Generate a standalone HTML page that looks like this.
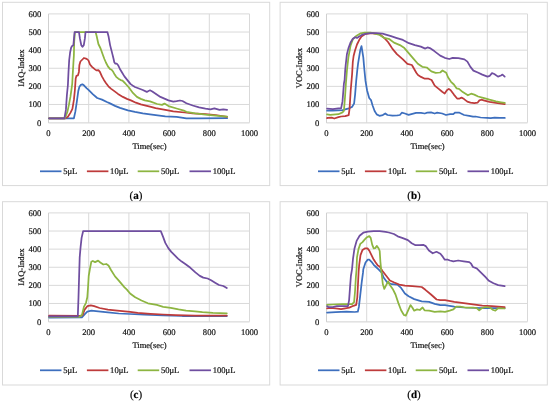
<!DOCTYPE html>
<html><head><meta charset="utf-8"><title>Figure</title><style>html,body{margin:0;padding:0;background:#fff;}svg{display:block;filter:blur(0.25px);}text{font-family:"Liberation Serif",serif;text-rendering:geometricPrecision;stroke:#141414;stroke-width:0.2px;}</style></head><body>
<svg width="550" height="402" viewBox="0 0 550 402">
<rect x="0" y="0" width="550" height="402" fill="#fff"/>
<g transform="translate(0 0)"><rect x="2.5" y="2.3" width="267.2" height="183.3" fill="#fff" stroke="#d9d9d9" stroke-width="1"/><line x1="48.5" y1="104.48" x2="249.5" y2="104.48" stroke="#d9d9d9" stroke-width="1"/><line x1="48.5" y1="86.37" x2="249.5" y2="86.37" stroke="#d9d9d9" stroke-width="1"/><line x1="48.5" y1="68.25" x2="249.5" y2="68.25" stroke="#d9d9d9" stroke-width="1"/><line x1="48.5" y1="50.13" x2="249.5" y2="50.13" stroke="#d9d9d9" stroke-width="1"/><line x1="48.5" y1="32.02" x2="249.5" y2="32.02" stroke="#d9d9d9" stroke-width="1"/><line x1="48.5" y1="13.9" x2="249.5" y2="13.9" stroke="#d9d9d9" stroke-width="1"/><line x1="88.7" y1="13.9" x2="88.7" y2="122.6" stroke="#d9d9d9" stroke-width="1"/><line x1="128.9" y1="13.9" x2="128.9" y2="122.6" stroke="#d9d9d9" stroke-width="1"/><line x1="169.1" y1="13.9" x2="169.1" y2="122.6" stroke="#d9d9d9" stroke-width="1"/><line x1="209.3" y1="13.9" x2="209.3" y2="122.6" stroke="#d9d9d9" stroke-width="1"/><line x1="249.5" y1="13.9" x2="249.5" y2="122.6" stroke="#d9d9d9" stroke-width="1"/><line x1="48.5" y1="13.9" x2="48.5" y2="122.9" stroke="#d0d0d0" stroke-width="1"/><line x1="48.5" y1="122.9" x2="249.5" y2="122.9" stroke="#d0d0d0" stroke-width="1"/><text x="41.3" y="125.5" font-size="8.6" text-anchor="end" fill="#141414">0</text><text x="41.3" y="107.38" font-size="8.6" text-anchor="end" fill="#141414">100</text><text x="41.3" y="89.27" font-size="8.6" text-anchor="end" fill="#141414">200</text><text x="41.3" y="71.15" font-size="8.6" text-anchor="end" fill="#141414">300</text><text x="41.3" y="53.03" font-size="8.6" text-anchor="end" fill="#141414">400</text><text x="41.3" y="34.92" font-size="8.6" text-anchor="end" fill="#141414">500</text><text x="41.3" y="16.8" font-size="8.6" text-anchor="end" fill="#141414">600</text><text x="48.5" y="135.9" font-size="8.6" text-anchor="middle" fill="#141414">0</text><text x="88.7" y="135.9" font-size="8.6" text-anchor="middle" fill="#141414">200</text><text x="128.9" y="135.9" font-size="8.6" text-anchor="middle" fill="#141414">400</text><text x="169.1" y="135.9" font-size="8.6" text-anchor="middle" fill="#141414">600</text><text x="209.3" y="135.9" font-size="8.6" text-anchor="middle" fill="#141414">800</text><text x="249.5" y="135.9" font-size="8.6" text-anchor="middle" fill="#141414">1000</text><text x="0" y="0" font-size="8.5" text-anchor="middle" fill="#141414" transform="translate(23.6 68.1) rotate(-90)">IAQ-Index</text><text x="149.5" y="149" font-size="8.5" text-anchor="middle" fill="#141414">Time(sec)</text><line x1="40" y1="171.3" x2="61.5" y2="171.3" stroke="#3d6fbe" stroke-width="1.75"/><text x="63.2" y="174.4" font-size="8.6" fill="#141414">5μL</text><line x1="86.9" y1="171.3" x2="108.4" y2="171.3" stroke="#be3b3b" stroke-width="1.75"/><text x="110.1" y="174.4" font-size="8.6" fill="#141414">10μL</text><line x1="137.7" y1="171.3" x2="159.2" y2="171.3" stroke="#8db541" stroke-width="1.75"/><text x="160.9" y="174.4" font-size="8.6" fill="#141414">50μL</text><line x1="189.5" y1="171.3" x2="211" y2="171.3" stroke="#6f4ea0" stroke-width="1.75"/><text x="212.7" y="174.4" font-size="8.6" fill="#141414">100μL</text><text x="136" y="199.1" font-size="11" text-anchor="middle" fill="#000">(<tspan font-weight="bold">a</tspan>)</text></g>
<polyline points="49.1,118.3 73.9,118.3 75.3,111.9 76.8,101.9 78.3,91 79.4,86.8 80.9,84.8 82.4,84.3 83.9,85.3 86.8,88.3 88,89.3 93,94.3 97.2,98 102,99.6 106.9,102 110,103.4 115,105.9 120,107.9 127.9,110.3 134.9,111.8 142.8,113.3 150,114.3 165.3,116.3 176.6,116.9 186.4,118.4 199.1,118.4 227.1,118.2" fill="none" stroke="#3d6fbe" stroke-width="1.75" stroke-linejoin="round" stroke-linecap="round"/>
<polyline points="49.1,118.3 65.4,118.3 67.9,116.8 70.4,112.9 72.4,108.9 73.9,99.9 74.9,90 75.7,78.4 76.4,75.9 77.9,75.4 78.9,71.9 79.4,64.9 80.4,61.5 81.9,60 83.9,58 85.9,58.6 87.5,59.5 88.5,60.5 90,64.5 92,66.9 95,69.4 96.4,70.4 98.4,70.1 99.9,71.9 101.9,76.4 103.9,79.9 105.9,82.9 108.4,86.3 110.9,88.6 114,90.9 118,93.9 122.9,96.9 126.9,98.9 130.9,100.4 135.9,102.7 140.8,104.4 144.8,105.4 150,106.7 155.6,108.2 165.3,109.8 173.3,111.4 184.7,112.5 192.7,113.3 205.5,114.1 215.6,115 227.1,116.9" fill="none" stroke="#be3b3b" stroke-width="1.75" stroke-linejoin="round" stroke-linecap="round"/>
<polyline points="49.1,118.3 64.9,118.3 67.4,111.9 68.9,104.9 70.4,96.9 71.4,90 72.2,84 72.7,74.9 73.4,63 73.9,55 74.2,41.8 74.9,32.1 95.6,32.1 96.7,36.2 98.4,44 100.6,48.5 102.9,55 104.4,59 105.9,62.5 107.9,66.4 109.9,68.9 111.6,69.8 113.2,71.8 114.7,74.6 116.2,76.8 118.4,78.7 120.7,80.1 122.5,80.7 124.9,83 128.9,87.5 132.9,92.9 136.9,96.9 140.8,98.9 144.8,100.4 150,101.4 157.2,104 162,104.9 164.5,103.6 168.5,106.1 176.6,108.5 184.7,110.9 186.4,111.8 195.3,113.3 205.5,114.6 218.2,115.9 227.1,116.7" fill="none" stroke="#8db541" stroke-width="1.75" stroke-linejoin="round" stroke-linecap="round"/>
<polyline points="49.1,118.3 64.4,118.3 65.9,109.9 66.9,95 67.9,85 68.5,72 69.2,60 70.1,52.5 71.2,47.4 72.3,45.7 73.4,45.2 74,38.4 74.6,32.1 79,32.1 79.9,38.4 81.3,45.2 82.4,46.8 83.8,45.2 84.9,38.4 85.5,32.1 107.4,32.1 108.5,36.2 110.1,45.1 112.4,54.1 113.6,59 114.3,62.2 115.4,63.7 116.9,63.7 118.1,65.2 119.9,69 122.2,72.7 124.4,76.4 127.4,80.1 130.4,83.9 133.4,86.1 134.9,87 138.9,88.5 142.8,90 146.8,91.9 148.5,91 150,90.3 152.3,91.5 160.4,96.9 168.5,100.4 173.3,101.7 176.6,101.2 180,100.5 182.5,101 186.4,103.2 192.7,105.5 199.1,107.4 205.5,108.6 210.5,109.3 214.4,108.3 219.5,109.9 223.3,109.3 227.1,109.9" fill="none" stroke="#6f4ea0" stroke-width="1.75" stroke-linejoin="round" stroke-linecap="round"/>
<g transform="translate(278 0)"><rect x="2.1" y="2.3" width="267.2" height="183.3" fill="#fff" stroke="#d9d9d9" stroke-width="1"/><line x1="48.5" y1="104.48" x2="249.5" y2="104.48" stroke="#d9d9d9" stroke-width="1"/><line x1="48.5" y1="86.37" x2="249.5" y2="86.37" stroke="#d9d9d9" stroke-width="1"/><line x1="48.5" y1="68.25" x2="249.5" y2="68.25" stroke="#d9d9d9" stroke-width="1"/><line x1="48.5" y1="50.13" x2="249.5" y2="50.13" stroke="#d9d9d9" stroke-width="1"/><line x1="48.5" y1="32.02" x2="249.5" y2="32.02" stroke="#d9d9d9" stroke-width="1"/><line x1="48.5" y1="13.9" x2="249.5" y2="13.9" stroke="#d9d9d9" stroke-width="1"/><line x1="88.7" y1="13.9" x2="88.7" y2="122.6" stroke="#d9d9d9" stroke-width="1"/><line x1="128.9" y1="13.9" x2="128.9" y2="122.6" stroke="#d9d9d9" stroke-width="1"/><line x1="169.1" y1="13.9" x2="169.1" y2="122.6" stroke="#d9d9d9" stroke-width="1"/><line x1="209.3" y1="13.9" x2="209.3" y2="122.6" stroke="#d9d9d9" stroke-width="1"/><line x1="249.5" y1="13.9" x2="249.5" y2="122.6" stroke="#d9d9d9" stroke-width="1"/><line x1="48.5" y1="13.9" x2="48.5" y2="122.9" stroke="#d0d0d0" stroke-width="1"/><line x1="48.5" y1="122.9" x2="249.5" y2="122.9" stroke="#d0d0d0" stroke-width="1"/><text x="41.3" y="125.5" font-size="8.6" text-anchor="end" fill="#141414">0</text><text x="41.3" y="107.38" font-size="8.6" text-anchor="end" fill="#141414">100</text><text x="41.3" y="89.27" font-size="8.6" text-anchor="end" fill="#141414">200</text><text x="41.3" y="71.15" font-size="8.6" text-anchor="end" fill="#141414">300</text><text x="41.3" y="53.03" font-size="8.6" text-anchor="end" fill="#141414">400</text><text x="41.3" y="34.92" font-size="8.6" text-anchor="end" fill="#141414">500</text><text x="41.3" y="16.8" font-size="8.6" text-anchor="end" fill="#141414">600</text><text x="48.5" y="135.9" font-size="8.6" text-anchor="middle" fill="#141414">0</text><text x="88.7" y="135.9" font-size="8.6" text-anchor="middle" fill="#141414">200</text><text x="128.9" y="135.9" font-size="8.6" text-anchor="middle" fill="#141414">400</text><text x="169.1" y="135.9" font-size="8.6" text-anchor="middle" fill="#141414">600</text><text x="209.3" y="135.9" font-size="8.6" text-anchor="middle" fill="#141414">800</text><text x="249.5" y="135.9" font-size="8.6" text-anchor="middle" fill="#141414">1000</text><text x="0" y="0" font-size="8.5" text-anchor="middle" fill="#141414" transform="translate(23.6 68.1) rotate(-90)">VOC-Index</text><text x="149.5" y="149" font-size="8.5" text-anchor="middle" fill="#141414">Time(sec)</text><line x1="40" y1="171.3" x2="61.5" y2="171.3" stroke="#3d6fbe" stroke-width="1.75"/><text x="63.2" y="174.4" font-size="8.6" fill="#141414">5μL</text><line x1="86.9" y1="171.3" x2="108.4" y2="171.3" stroke="#be3b3b" stroke-width="1.75"/><text x="110.1" y="174.4" font-size="8.6" fill="#141414">10μL</text><line x1="137.7" y1="171.3" x2="159.2" y2="171.3" stroke="#8db541" stroke-width="1.75"/><text x="160.9" y="174.4" font-size="8.6" fill="#141414">50μL</text><line x1="189.5" y1="171.3" x2="211" y2="171.3" stroke="#6f4ea0" stroke-width="1.75"/><text x="212.7" y="174.4" font-size="8.6" fill="#141414">100μL</text><text x="136" y="199.1" font-size="11" text-anchor="middle" fill="#000">(<tspan font-weight="bold">b</tspan>)</text></g>
<polyline points="327.1,110.7 332.9,110.7 342.5,110.1 348,108.7 352.1,106.9 354.1,103.5 355.1,94.6 356.2,80.9 357.3,70 358.1,63.3 360.3,49.9 361.5,46.1 363.3,57.3 364.4,70 365.5,80.9 367.1,90.5 369.2,98 371,100.1 372.6,105.5 374.6,111 376.7,114.4 379.4,115.8 382.8,115.1 385.3,113.5 387.5,115 392.5,115.6 397.4,115.4 399.9,115 401.8,112.7 404.9,113.5 408.6,114.8 412.3,113.8 416.1,112.9 421,112.9 424.8,113.5 427.3,112.7 431,112.3 434.7,113.5 437.2,112.7 442.2,113.5 446,115 450.1,114.1 453.3,114.1 455.2,112.5 459,112.5 461.5,113.7 464.1,115 469.2,115.9 473,116.7 475.5,116.5 480.6,117.5 487,117.9 490.8,118.2 494.6,117.7 499.7,117.9 504.8,117.9" fill="none" stroke="#3d6fbe" stroke-width="1.75" stroke-linejoin="round" stroke-linecap="round"/>
<polyline points="327.1,118.1 327.5,117.9 331.6,117.6 334.3,118.5 338.4,117.2 341.1,116.5 345.2,116.2 348.7,115.1 349.6,108.3 350.7,90.5 352.1,74.1 352.8,62 353.6,56 355,50.5 357,44.5 359.3,39.8 361.5,36.6 364.8,34.2 370.7,33.1 379.7,34.2 384.2,37.9 388,42 390,45 392.5,48.9 396.9,54.1 402.9,59.3 407.4,63.8 411.9,65 416.3,72.8 418,75 421,76.9 424.8,78.7 428.5,78.7 431.6,80 434.7,85.6 438.4,88.7 442.2,91.8 444.7,93.6 446.9,90.2 448.8,88.9 450.7,90.2 453.9,94.6 457.1,98.5 459.6,98.5 461.5,97.6 464.1,99.1 467.3,101.6 470.5,102.7 474.3,103.2 477.5,102.7 479.4,100.4 481.3,99.7 484.5,100.6 489.5,101.9 495.9,102.9 504.8,104.2" fill="none" stroke="#be3b3b" stroke-width="1.75" stroke-linejoin="round" stroke-linecap="round"/>
<polyline points="327.1,114.4 330.2,114.8 338.4,114.2 342.5,112.4 343.9,111 345,97.3 345.9,83.7 347,70 348.4,57.3 350.6,45.4 352.8,39.4 356.6,35.7 360.3,33.4 364.8,32.7 370.7,32.7 379.7,34.9 384.2,37.9 389.5,39.2 394,42.6 399.9,45.1 404.4,48.1 408.9,53.4 413.4,58.6 417.8,63.8 422.3,66.8 426.8,67.5 431.3,71.3 435.7,72.8 440.2,72.5 442.5,70.5 446.2,72.8 448,77.3 451,81.8 453.9,84.5 456.5,88.3 459,88.9 462.8,92.1 467.9,95.3 471.1,93.7 474.3,94.6 478.1,96.5 483.2,97.8 489.5,99.7 495.9,101.4 501,102.3 504.8,102.9" fill="none" stroke="#8db541" stroke-width="1.75" stroke-linejoin="round" stroke-linecap="round"/>
<polyline points="327.1,108.7 332.9,109.2 338.4,108.3 341.1,108.3 342.5,101.4 343.9,83.7 344.6,80 345.2,70 345.7,64.8 346.9,54.3 348.4,48.4 350.6,42.4 352.8,38.7 355.1,37.2 357,37.9 358.8,36.7 361.8,34.9 366.3,33.7 370.7,33.1 376.7,33.1 382.7,33.7 385,34.3 391,36.2 396.9,38.1 402.9,39.9 408.9,43.2 414.9,45.1 420.8,46.6 425.3,48.6 427.5,47.4 429.8,48.1 434.3,51.1 440.2,55.6 444.7,57.8 449.2,59 452.7,57.8 458.4,58.2 464.4,59.4 467.4,61.6 470.4,66.9 473.4,70.6 477.8,72.5 482.3,74.6 487.5,76.6 489.8,75.8 492,73.1 494.3,74 498,76.6 501,75.5 502.5,74.6 504.7,76.6" fill="none" stroke="#6f4ea0" stroke-width="1.75" stroke-linejoin="round" stroke-linecap="round"/>
<g transform="translate(0 199)"><rect x="2.5" y="2.7" width="267.2" height="183.3" fill="#fff" stroke="#d9d9d9" stroke-width="1"/><line x1="48.5" y1="104.48" x2="249.5" y2="104.48" stroke="#d9d9d9" stroke-width="1"/><line x1="48.5" y1="86.37" x2="249.5" y2="86.37" stroke="#d9d9d9" stroke-width="1"/><line x1="48.5" y1="68.25" x2="249.5" y2="68.25" stroke="#d9d9d9" stroke-width="1"/><line x1="48.5" y1="50.13" x2="249.5" y2="50.13" stroke="#d9d9d9" stroke-width="1"/><line x1="48.5" y1="32.02" x2="249.5" y2="32.02" stroke="#d9d9d9" stroke-width="1"/><line x1="48.5" y1="13.9" x2="249.5" y2="13.9" stroke="#d9d9d9" stroke-width="1"/><line x1="88.7" y1="13.9" x2="88.7" y2="122.6" stroke="#d9d9d9" stroke-width="1"/><line x1="128.9" y1="13.9" x2="128.9" y2="122.6" stroke="#d9d9d9" stroke-width="1"/><line x1="169.1" y1="13.9" x2="169.1" y2="122.6" stroke="#d9d9d9" stroke-width="1"/><line x1="209.3" y1="13.9" x2="209.3" y2="122.6" stroke="#d9d9d9" stroke-width="1"/><line x1="249.5" y1="13.9" x2="249.5" y2="122.6" stroke="#d9d9d9" stroke-width="1"/><line x1="48.5" y1="13.9" x2="48.5" y2="122.9" stroke="#d0d0d0" stroke-width="1"/><line x1="48.5" y1="122.9" x2="249.5" y2="122.9" stroke="#d0d0d0" stroke-width="1"/><text x="41.3" y="125.5" font-size="8.6" text-anchor="end" fill="#141414">0</text><text x="41.3" y="107.38" font-size="8.6" text-anchor="end" fill="#141414">100</text><text x="41.3" y="89.27" font-size="8.6" text-anchor="end" fill="#141414">200</text><text x="41.3" y="71.15" font-size="8.6" text-anchor="end" fill="#141414">300</text><text x="41.3" y="53.03" font-size="8.6" text-anchor="end" fill="#141414">400</text><text x="41.3" y="34.92" font-size="8.6" text-anchor="end" fill="#141414">500</text><text x="41.3" y="16.8" font-size="8.6" text-anchor="end" fill="#141414">600</text><text x="48.5" y="135.9" font-size="8.6" text-anchor="middle" fill="#141414">0</text><text x="88.7" y="135.9" font-size="8.6" text-anchor="middle" fill="#141414">200</text><text x="128.9" y="135.9" font-size="8.6" text-anchor="middle" fill="#141414">400</text><text x="169.1" y="135.9" font-size="8.6" text-anchor="middle" fill="#141414">600</text><text x="209.3" y="135.9" font-size="8.6" text-anchor="middle" fill="#141414">800</text><text x="249.5" y="135.9" font-size="8.6" text-anchor="middle" fill="#141414">1000</text><text x="0" y="0" font-size="8.5" text-anchor="middle" fill="#141414" transform="translate(23.6 68.1) rotate(-90)">IAQ-Index</text><text x="149.5" y="149" font-size="8.5" text-anchor="middle" fill="#141414">Time(sec)</text><line x1="40" y1="171.3" x2="61.5" y2="171.3" stroke="#3d6fbe" stroke-width="1.75"/><text x="63.2" y="174.4" font-size="8.6" fill="#141414">5μL</text><line x1="86.9" y1="171.3" x2="108.4" y2="171.3" stroke="#be3b3b" stroke-width="1.75"/><text x="110.1" y="174.4" font-size="8.6" fill="#141414">10μL</text><line x1="137.7" y1="171.3" x2="159.2" y2="171.3" stroke="#8db541" stroke-width="1.75"/><text x="160.9" y="174.4" font-size="8.6" fill="#141414">50μL</text><line x1="189.5" y1="171.3" x2="211" y2="171.3" stroke="#6f4ea0" stroke-width="1.75"/><text x="212.7" y="174.4" font-size="8.6" fill="#141414">100μL</text><text x="136" y="199.1" font-size="11" text-anchor="middle" fill="#000">(<tspan font-weight="bold">c</tspan>)</text></g>
<polyline points="49.1,317.5 81.9,317.4 84.6,314.4 87.3,311.7 91.4,310.7 98.3,311.3 107.9,312.4 118.8,313.5 130,314 144.1,314.7 163.2,315.5 182.3,316 226.8,316" fill="none" stroke="#3d6fbe" stroke-width="1.75" stroke-linejoin="round" stroke-linecap="round"/>
<polyline points="49.1,315.6 80.5,315.8 82.6,315.1 84.6,309.6 87.3,306.2 90.8,305.3 94.2,306.2 99.6,308 107.9,309.6 117.4,310.7 130,311.9 137.7,312.9 150.5,313.8 163.2,314.5 175.9,315.1 195,315.6 226.8,315.6" fill="none" stroke="#be3b3b" stroke-width="1.75" stroke-linejoin="round" stroke-linecap="round"/>
<polyline points="49.1,316.8 79.1,316.9 81.9,315.1 83.9,306.9 86,302.8 87.3,297.3 88,287.8 88.7,276 89.9,269 91.3,261.8 92.8,261 95.1,262.1 98.1,260.6 100.3,262.5 103.3,264.5 106.3,264 108.5,265.5 111,270 115,276.4 118.8,280.6 124.3,287.1 126.9,289.6 130.1,293.5 135.2,297.3 141.5,300.5 147.9,303.3 156.8,304.9 163.2,306.8 170.8,307.8 178.5,309.4 186.1,310.6 195,311.3 202.4,312.1 212.9,312.8 226.8,313.3" fill="none" stroke="#8db541" stroke-width="1.75" stroke-linejoin="round" stroke-linecap="round"/>
<polyline points="49.1,316.4 77.8,316.4 78.5,297.3 79.1,276.8 79.7,257.3 80.6,246.9 81.6,237.9 83.1,231.2 160.8,231.2 163.1,236.9 165.3,242.9 168.3,248.1 171.3,251.9 174.3,254.9 178,258.6 181.7,261.6 186,264.5 190.4,267.8 195.4,272.4 199.8,275.9 203.3,277.6 207.6,278.5 211.1,280.2 215.5,282.9 219,285 223.3,286 226.8,288.1" fill="none" stroke="#6f4ea0" stroke-width="1.75" stroke-linejoin="round" stroke-linecap="round"/>
<g transform="translate(278 199)"><rect x="2.1" y="2.7" width="267.2" height="183.3" fill="#fff" stroke="#d9d9d9" stroke-width="1"/><line x1="48.5" y1="104.48" x2="249.5" y2="104.48" stroke="#d9d9d9" stroke-width="1"/><line x1="48.5" y1="86.37" x2="249.5" y2="86.37" stroke="#d9d9d9" stroke-width="1"/><line x1="48.5" y1="68.25" x2="249.5" y2="68.25" stroke="#d9d9d9" stroke-width="1"/><line x1="48.5" y1="50.13" x2="249.5" y2="50.13" stroke="#d9d9d9" stroke-width="1"/><line x1="48.5" y1="32.02" x2="249.5" y2="32.02" stroke="#d9d9d9" stroke-width="1"/><line x1="48.5" y1="13.9" x2="249.5" y2="13.9" stroke="#d9d9d9" stroke-width="1"/><line x1="88.7" y1="13.9" x2="88.7" y2="122.6" stroke="#d9d9d9" stroke-width="1"/><line x1="128.9" y1="13.9" x2="128.9" y2="122.6" stroke="#d9d9d9" stroke-width="1"/><line x1="169.1" y1="13.9" x2="169.1" y2="122.6" stroke="#d9d9d9" stroke-width="1"/><line x1="209.3" y1="13.9" x2="209.3" y2="122.6" stroke="#d9d9d9" stroke-width="1"/><line x1="249.5" y1="13.9" x2="249.5" y2="122.6" stroke="#d9d9d9" stroke-width="1"/><line x1="48.5" y1="13.9" x2="48.5" y2="122.9" stroke="#d0d0d0" stroke-width="1"/><line x1="48.5" y1="122.9" x2="249.5" y2="122.9" stroke="#d0d0d0" stroke-width="1"/><text x="41.3" y="125.5" font-size="8.6" text-anchor="end" fill="#141414">0</text><text x="41.3" y="107.38" font-size="8.6" text-anchor="end" fill="#141414">100</text><text x="41.3" y="89.27" font-size="8.6" text-anchor="end" fill="#141414">200</text><text x="41.3" y="71.15" font-size="8.6" text-anchor="end" fill="#141414">300</text><text x="41.3" y="53.03" font-size="8.6" text-anchor="end" fill="#141414">400</text><text x="41.3" y="34.92" font-size="8.6" text-anchor="end" fill="#141414">500</text><text x="41.3" y="16.8" font-size="8.6" text-anchor="end" fill="#141414">600</text><text x="48.5" y="135.9" font-size="8.6" text-anchor="middle" fill="#141414">0</text><text x="88.7" y="135.9" font-size="8.6" text-anchor="middle" fill="#141414">200</text><text x="128.9" y="135.9" font-size="8.6" text-anchor="middle" fill="#141414">400</text><text x="169.1" y="135.9" font-size="8.6" text-anchor="middle" fill="#141414">600</text><text x="209.3" y="135.9" font-size="8.6" text-anchor="middle" fill="#141414">800</text><text x="249.5" y="135.9" font-size="8.6" text-anchor="middle" fill="#141414">1000</text><text x="0" y="0" font-size="8.5" text-anchor="middle" fill="#141414" transform="translate(23.6 68.1) rotate(-90)">VOC-Index</text><text x="149.5" y="149" font-size="8.5" text-anchor="middle" fill="#141414">Time(sec)</text><line x1="40" y1="171.3" x2="61.5" y2="171.3" stroke="#3d6fbe" stroke-width="1.75"/><text x="63.2" y="174.4" font-size="8.6" fill="#141414">5μL</text><line x1="86.9" y1="171.3" x2="108.4" y2="171.3" stroke="#be3b3b" stroke-width="1.75"/><text x="110.1" y="174.4" font-size="8.6" fill="#141414">10μL</text><line x1="137.7" y1="171.3" x2="159.2" y2="171.3" stroke="#8db541" stroke-width="1.75"/><text x="160.9" y="174.4" font-size="8.6" fill="#141414">50μL</text><line x1="189.5" y1="171.3" x2="211" y2="171.3" stroke="#6f4ea0" stroke-width="1.75"/><text x="212.7" y="174.4" font-size="8.6" fill="#141414">100μL</text><text x="136" y="199.1" font-size="11" text-anchor="middle" fill="#000">(<tspan font-weight="bold">d</tspan>)</text></g>
<polyline points="327.1,312.7 335.7,312.1 346.6,311.7 354.8,312 357.8,311.7 358.9,306.9 360.3,294.6 361.7,282.3 363,272.7 363.3,269.3 365.5,262.5 367.8,259.6 369.3,259.6 371.5,261.8 373.7,264.8 376,267 378.8,269.6 381.9,273 383.6,277.5 387.1,282.3 391.8,284.2 397.4,284.6 401.1,287.9 404.9,293.5 408.6,296.3 414.2,299.1 421.7,301.4 429.1,301.9 434.7,303.8 440.3,305.1 445,305.1 454.3,306.6 463.7,307.5 482.3,308.1 504.7,308.1" fill="none" stroke="#3d6fbe" stroke-width="1.75" stroke-linejoin="round" stroke-linecap="round"/>
<polyline points="327.1,308.3 330.2,308 335.7,308.3 341.1,309.2 345.2,308.3 349.3,307.6 353.4,305.8 356.2,304.9 357.3,297.3 358,284 358.6,272 359.2,264.8 360.5,255.1 362.5,249.9 364.8,248.4 367.5,248.4 369.3,250.6 371.5,255.1 373.7,259.6 375.5,262.3 377.8,265.5 379.7,266.6 382.5,271 386.2,275.8 389.9,280.5 393.7,282.3 399.3,284.6 404.9,285.7 412.3,286.1 421.7,287 425.4,289.8 431,294.5 436.6,299.5 440.3,300.1 445,300.1 454.3,301.9 463.7,303.2 473,304.4 482.3,305.7 491.7,306.2 504.7,307.2" fill="none" stroke="#be3b3b" stroke-width="1.75" stroke-linejoin="round" stroke-linecap="round"/>
<polyline points="327.1,304.9 332.9,304.5 342.5,304.2 352.1,304.2 354.1,302.1 355.1,290.5 355.9,276.8 356.5,270 357,257.3 358.5,249.1 360.3,243.9 362.5,242.1 364.8,239.4 367,237.2 369.3,236.1 370.7,237.9 372.2,244.6 373.7,248.4 375.2,248.1 376.9,245.9 378.7,248.5 379.7,251 380.4,261.8 381.5,272.5 382.8,284 384.3,288.9 386.2,285.1 388.1,281.4 389.9,285.1 392.7,288.9 395.5,294.5 398.3,302.9 401.1,310.3 403.9,315 405.8,315.6 407.7,311.3 410.5,305.1 412.3,307.5 414.2,310.7 417,309.4 419.8,310 422.6,307.5 424.5,310.3 429.1,310.7 434.7,311.8 440.3,311.3 445,311.9 449.7,310.7 453.4,309.4 456.2,306.6 459.9,306.6 465.5,307.5 473,307.5 476.7,308.1 479.2,310.3 481.4,308.5 485.1,307 489.8,307.5 493.2,310 495.4,310.7 498.2,308.1 504.7,308.5" fill="none" stroke="#8db541" stroke-width="1.75" stroke-linejoin="round" stroke-linecap="round"/>
<polyline points="327.1,306.2 328.8,307.2 332.9,307.2 337,306 342.5,306 348,306.2 349.1,300.1 350.1,286.4 350.9,276 352,269.3 353,258.8 354.5,248.4 356.6,240.9 359.6,235.7 363.3,232.7 367.8,231.6 373.7,231.2 379.7,231.2 385.7,231.9 388.8,232.5 393.9,234 397.7,236.3 402.8,238.1 407.9,240.1 411.7,243.2 415.5,245.2 419.4,245.2 423.2,244.8 425.7,246.1 428.9,250.5 432.7,253.3 436.5,251.8 440.4,253.7 442.9,256.9 444.8,259.7 447.4,259.5 449.9,260.5 453.4,261.4 458.1,260.5 463.7,261.4 469.3,262.2 471.1,263.7 473,267 476.7,268.3 480.5,272.1 485.1,276.7 488.9,280.8 493.5,283.3 498.2,285.1 504.7,286.1" fill="none" stroke="#6f4ea0" stroke-width="1.75" stroke-linejoin="round" stroke-linecap="round"/>
</svg></body></html>
